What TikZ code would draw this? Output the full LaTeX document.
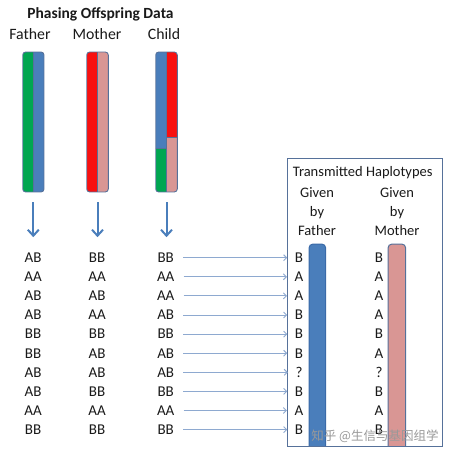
\documentclass[tikz,border=0pt]{standalone}
\usepackage{fontspec}
\setmainfont{Carlito}
\newfontfamily\cjk{Noto Sans CJK SC}
\usetikzlibrary{arrows.meta}
\definecolor{gr}{HTML}{00A651}
\definecolor{bl}{HTML}{4A7EBB}
\definecolor{rd}{HTML}{F81010}
\definecolor{pk}{HTML}{D99694}
\definecolor{ol}{HTML}{56719A}
\definecolor{ln}{HTML}{8EA9D0}
\definecolor{bld}{HTML}{3A6AA8}
\definecolor{txtc}{HTML}{1A1A1A}
\tikzset{
  txt/.style={inner sep=1.5pt, text=txtc, font=\fontsize{15}{17}\selectfont},
  lbl/.style={inner sep=1pt, text=txtc, font=\fontsize{14.5}{19}\selectfont, align=center},
  toplbl/.style={inner sep=1pt, text=txtc, font=\fontsize{15.8}{19}\selectfont},
  darrow/.style={draw=bl, line width=2pt, -{Straight Barb[length=6pt,width=11pt]}},
  harrow/.style={draw=ln, line width=0.9pt, -{Straight Barb[length=3pt,width=6pt]}},
  barline/.style={draw=ol, line width=0.9pt, rounded corners=3pt},
}
\begin{document}
\begin{tikzpicture}[x=1pt,y=-1pt]
\useasboundingbox[fill=white] (0,0) rectangle (453,456);

% titles
\node[txt, font=\bfseries\fontsize{15.5}{17}\selectfont] (title) at (100.5,14) {Phasing Offspring Data};
\node[toplbl] (lfa) at (30,34) {Father};
\node[toplbl] (lmo) at (97,34) {Mother};
\node[toplbl] (lch) at (164,34) {Child};

% father bar
\begin{scope}
\clip[rounded corners=3pt] (22.7,52) rectangle (44,192);
\fill[gr] (22.7,52) rectangle (33.35,192);
\fill[bl] (33.35,52) rectangle (44,192);
\end{scope}
\draw[barline] (22.7,52) rectangle (44,192);
\draw[ol, line width=0.6pt] (33.35,52) -- (33.35,192);
% mother bar
\begin{scope}
\clip[rounded corners=3pt] (86.7,52) rectangle (108.3,192);
\fill[rd] (86.7,52) rectangle (97.5,192);
\fill[pk] (97.5,52) rectangle (108.3,192);
\end{scope}
\draw[barline] (86.7,52) rectangle (108.3,192);
\draw[ol, line width=0.6pt] (97.5,52) -- (97.5,192);
% child bar
\begin{scope}
\clip[rounded corners=3pt] (155.7,52) rectangle (177.3,192);
\fill[bl] (155.7,52) rectangle (166.5,148);
\fill[gr] (155.7,148) rectangle (166.5,192);
\fill[rd] (166.5,52) rectangle (177.3,137);
\fill[pk] (166.5,137) rectangle (177.3,192);
\end{scope}
\draw[barline] (155.7,52) rectangle (177.3,192);
\draw[ol, line width=0.6pt] (166.5,52) -- (166.5,192);
\draw[ol, line width=0.6pt] (155.7,148) -- (166.5,148);
\draw[ol, line width=0.6pt] (166.5,137) -- (177.3,137);

\coordinate (fbot) at (33.3,192);
\coordinate (mbot) at (97.5,192);
\coordinate (cbot) at (166.5,192);

% box
\node[draw=ol, line width=1pt, minimum width=154.6pt, minimum height=287.7pt, inner sep=0pt] (box) at (365,302.15) {};
\node[lbl] (th) at (362.7,172.7) {Transmitted Haplotypes};
\node[lbl] (gf) at (317,212) {Given\\by\\Father};
\node[lbl] (gm) at (397,212) {Given\\by\\Mother};

% transmitted bars
\filldraw[fill=bl, draw=bld, line width=1pt, rounded corners=4pt] (309,446) -- (309,244) -- (325.7,244) -- (325.7,446);
\filldraw[fill=pk, draw=ol, line width=1pt, rounded corners=4pt] (388,446) -- (388,244) -- (405.7,244) -- (405.7,446);
\draw[draw=ol, line width=1pt] (287.7,446) -- (442.3,446);

% rows
\foreach \f/\m/\c/\tf/\tm [count=\i] in {AB/BB/BB/B/B, AA/AA/AA/A/A, AB/AB/AA/A/A, AB/AA/AB/B/A, BB/BB/BB/B/B, BB/AB/AB/B/A, AB/AB/AB/?/?, AB/BB/BB/B/B, AA/AA/AA/A/A, BB/BB/BB/B/B} {
  \pgfmathsetmacro\yy{257.7+(\i-1)*19.1}
  \node[txt] (f\i) at (33,\yy) {\f};
  \node[txt] (m\i) at (97,\yy) {\m};
  \node[txt] (c\i) at (165.7,\yy) {\c};
  \node[txt] (tf\i) at (299,\yy) {\tf};
  \node[txt] (tm\i) at (379,\yy) {\tm};
  \draw[harrow, shorten <=7.5pt, shorten >=6pt] (c\i.east) -- (tf\i.west);
}

% down arrows
\draw[darrow, shorten <=10pt, shorten >=14pt] (fbot) -- (fbot |- f1.north);
\draw[darrow, shorten <=10pt, shorten >=14pt] (mbot) -- (mbot |- m1.north);
\draw[darrow, shorten <=10pt, shorten >=14pt] (cbot) -- (cbot |- c1.north);

% watermark
\node[text=black!40, font=\cjk\fontsize{12.5}{14}\selectfont, inner sep=0pt] (wm) at (375,436) {知乎 @生信与基因组学};
\end{tikzpicture}
\end{document}
